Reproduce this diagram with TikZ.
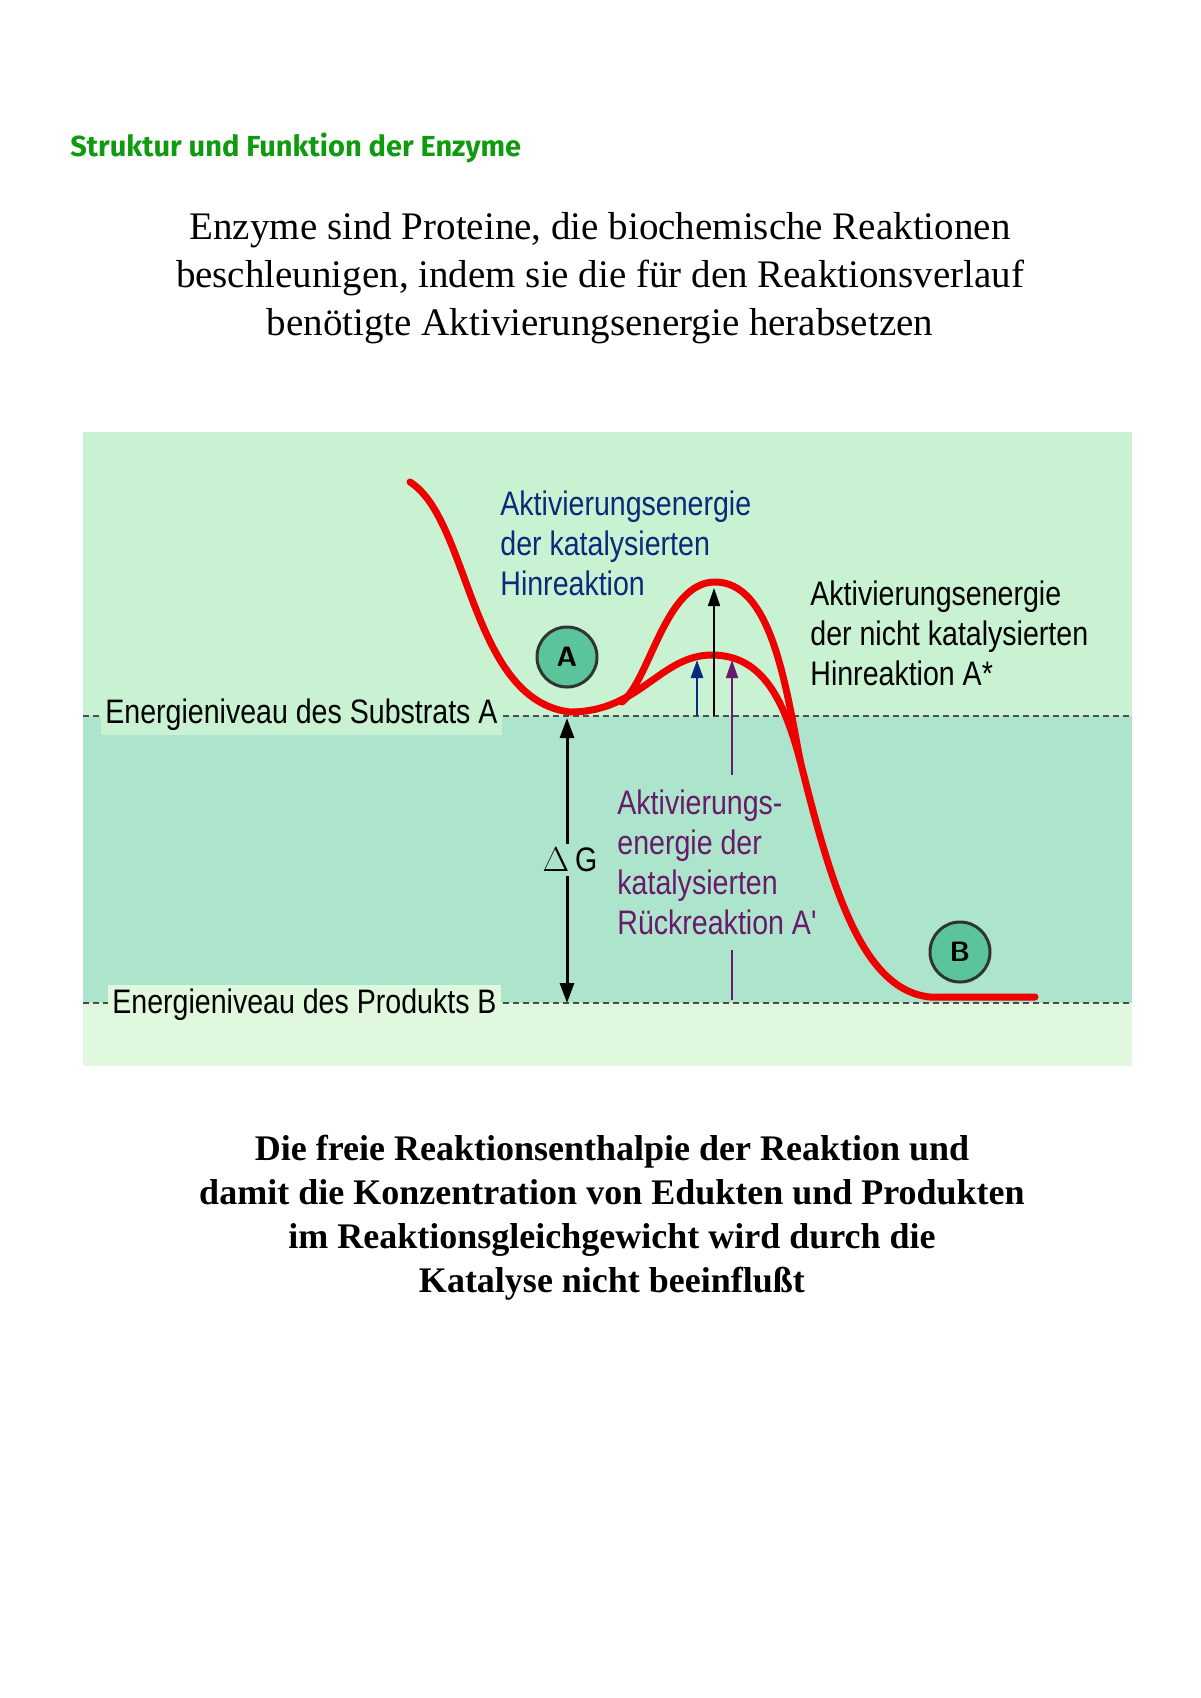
\documentclass[tikz,border=0pt]{standalone}
\usepackage{fontspec}
\setmainfont{Liberation Serif}
\newfontfamily\narrowfont[FakeStretch=0.84]{Liberation Sans}
\newfontfamily\titlefont{Fira Sans}
\usetikzlibrary{arrows.meta}
\definecolor{bgtop}{HTML}{C8F2D2}
\definecolor{bgmid}{HTML}{ACE4CC}
\definecolor{bgbot}{HTML}{E0F8DE}
\definecolor{curvered}{HTML}{EE0000}
\definecolor{ballfill}{HTML}{5CC49A}
\definecolor{lblue}{HTML}{0A2A7A}
\definecolor{lpurple}{HTML}{6A1A6A}
\definecolor{tgreen}{HTML}{109A10}
\tikzset{
  lbl/.style={font=\narrowfont\fontsize{17}{20}\selectfont, anchor=west, inner sep=0pt, align=left},
  ball/.style={circle, draw=black!80, line width=1.5pt, fill=ballfill, minimum size=30pt, inner sep=0pt, font=\sffamily\bfseries\fontsize{14}{14}\selectfont},
  level/.style={dashed, dash pattern=on 3pt off 2pt, line width=0.6pt, draw=black!70},
  par/.style={font=\fontsize{19.5}{24}\selectfont, align=center, inner sep=0pt},
}
\begin{document}
\begin{tikzpicture}[x=0.5pt,y=-0.5pt]
\useasboundingbox (0,0) rectangle (1200,1698);
\fill[white] (0,0) rectangle (1200,1698);
% title
\node[anchor=west, text=tgreen, font=\titlefont\bfseries\fontsize{14.5}{16}\selectfont, inner sep=0pt] (title) at (70,148) {Struktur und Funktion der Enzyme};
\node[par] (intro) at (600,278) {Enzyme sind Proteine, die biochemische Reaktionen\\beschleunigen, indem sie die für den Reaktionsverlauf\\benötigte Aktivierungsenergie herabsetzen};
% background
\fill[bgtop] (83,432) rectangle (1132,716);
\fill[bgmid] (83,716) rectangle (1132,1003);
\fill[bgbot] (83,1003) rectangle (1132,1066);
% levels
\coordinate (l1) at (83,716); \coordinate (r1) at (1132,716);
\coordinate (l2) at (83,1003); \coordinate (r2) at (1132,1003);
\draw[level] (l1) -- (r1);
\draw[level] (l2) -- (r2);
% curves
\draw[curvered, line width=3.5pt, line cap=round] (410,482) .. controls (470,520) and (470,700) .. (570,712)
  .. controls (640,712) and (660,655) .. (712,655)
  .. controls (765,655) and (785,705) .. (800,760)
  .. controls (830,880) and (860,990) .. (930,997) -- (1035,997);
\draw[curvered, line width=3.5pt, line cap=round] (622,702) .. controls (650,680) and (665,582) .. (715,582)
  .. controls (770,582) and (785,680) .. (800,760);
% balls
\node[ball] (A) at (567,657) {A};
\node[ball] (B) at (960,952) {B};
% arrows
\coordinate (ga) at (567,718); \coordinate (gb) at (567,1003);
\node[font=\narrowfont\fontsize{17}{20}\selectfont, inner sep=2pt] (dG) at (570,860) {$\Delta$\,G};
\draw[-{Triangle[length=10pt,width=7pt]}, line width=1.5pt] (dG.north -| ga) -- (ga);
\draw[-{Triangle[length=10pt,width=7pt]}, line width=1.5pt] (dG.south -| ga) -- (gb);
\coordinate (b0) at (697,716); \coordinate (b1) at (697,660);
\draw[lblue, line width=1.4pt, -{Triangle[length=9pt,width=6pt]}] (b0) -- (b1);
\coordinate (k0) at (714,716); \coordinate (k1) at (714,588);
\draw[black, line width=0.8pt, -{Triangle[length=9pt,width=6pt]}] (k0) -- (k1);
\coordinate (p0) at (732,775); \coordinate (p1) at (732,660);
\draw[lpurple, line width=0.8pt, -{Triangle[length=9pt,width=6pt]}] (p0) -- (p1);
\coordinate (p2) at (732,950); \coordinate (p3) at (732,1000);
\draw[lpurple, line width=0.8pt] (p2) -- (p3);
% labels
\node[lbl, text=lblue] (cat) at (500,543) {Aktivierungsenergie\\der katalysierten\\Hinreaktion};
\node[lbl, text=black] (uncat) at (810,633) {Aktivierungsenergie\\der nicht katalysierten\\Hinreaktion A*};
\node[lbl, text=lpurple] (rueck) at (617,862) {Aktivierungs-\\energie der\\katalysierten\\Rückreaktion A'};
\node[lbl, fill=bgtop, inner sep=2pt] (subA) at (101,715) {Energieniveau des Substrats A};
\node[lbl, fill=bgbot, inner sep=2pt] (prodB) at (108,1005) {Energieniveau des Produkts B};
% bottom text
\node[par, font=\bfseries\fontsize{18}{22}\selectfont] (concl) at (612,1218) {Die freie Reaktionsenthalpie der Reaktion und\\damit die Konzentration von Edukten und Produkten\\im Reaktionsgleichgewicht wird durch die\\Katalyse nicht beeinflußt};
\end{tikzpicture}
\end{document}
